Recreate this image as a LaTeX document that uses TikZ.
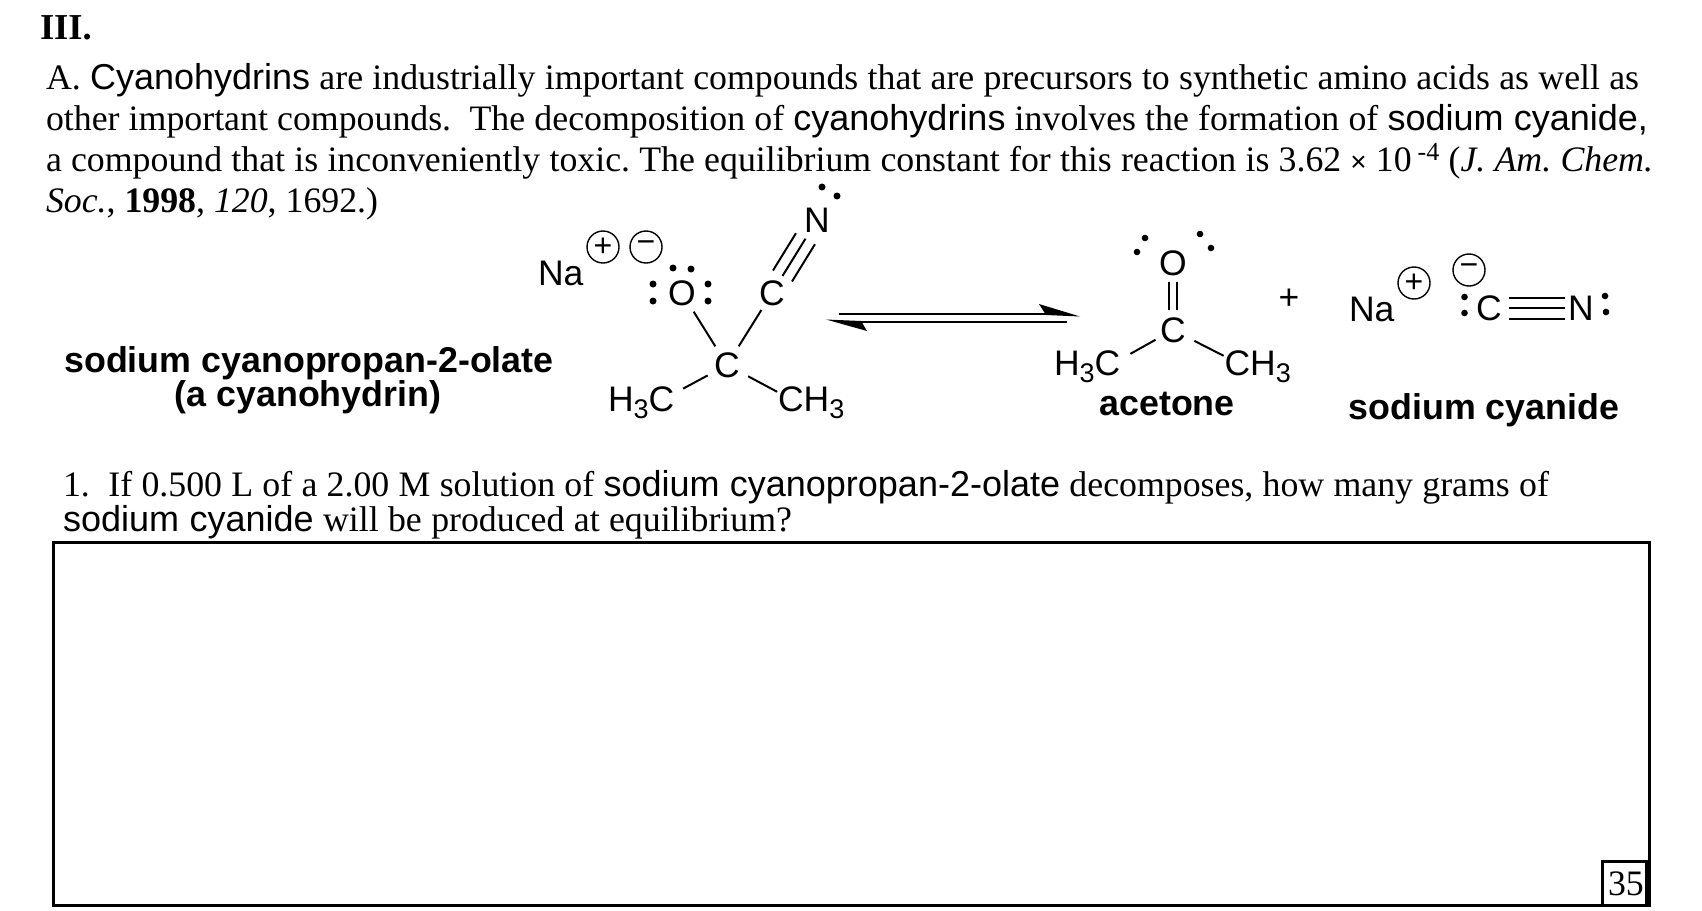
\documentclass[tikz,border=0pt]{standalone}
\usepackage{fontspec}
\setmainfont{Liberation Serif}
\setsansfont{Liberation Sans}
\newcommand{\bodyf}{\fontsize{35.8}{41}\selectfont}
\newcommand{\sfw}[1]{{\sffamily\fontsize{36}{41}\selectfont #1}}
\newcommand{\chemf}{\sffamily\fontsize{35.5}{38}\selectfont}
\newcommand{\subt}[1]{\raisebox{-7pt}{\fontsize{27}{28}\selectfont #1}}
\newcommand{\tline}[2]{\makebox[#1pt][s]{#2}}
\tikzset{
  every node/.style={inner sep=0pt,outer sep=0pt},
  textline/.style={anchor=base west,font=\bodyf},
  chem/.style={anchor=base west,font=\chemf},
  atom/.style={circle,minimum size=44pt,font=\chemf},
  atoms/.style={circle,minimum size=40pt,font=\chemf},
  atomo/.style={circle,minimum size=34pt,font=\chemf},
  plain/.style={font=\chemf},
  boldlabel/.style={anchor=base,font=\sffamily\bfseries\fontsize{35.8}{38}\selectfont},
  bond/.style={line width=2pt,line cap=butt},
  charge/.style={circle,draw,line width=1.4pt,minimum size=32pt,font=\sffamily\fontsize{32}{32}\selectfont},
  eq/.style={line width=1.8pt},
  frame/.style={draw,line width=3pt}
}
\begin{document}
\frenchspacing
\begin{tikzpicture}[x=1pt,y=-1pt]
\useasboundingbox (0,0) rectangle (1702,910);
\fill[white] (0,0) rectangle (1702,910);
% text
\node[textline,font=\bfseries\fontsize{36.5}{41}\selectfont] (t0) at (40,39) {III.};
\node[textline] (t1) at (46,89) {\tline{1593}{A. \sfw{Cyanohydrins} are industrially important compounds that are precursors to synthetic amino acids as well as}};
\node[textline] (t2) at (46,130) {\tline{1602}{other important compounds.\ \ The decomposition of \sfw{cyanohydrins} involves the formation of \sfw{sodium cyanide,}}};
\node[textline] (t3) at (46,171) {\tline{1607}{a compound that is inconveniently toxic. The equilibrium constant for this reaction is 3.62 {\sffamily\fontsize{28}{30}\selectfont ×} 10\,\raisebox{11pt}{\fontsize{26}{26}\selectfont -4} (\textit{J. Am. Chem.}}};
\node[textline] (t4) at (46,212) {\textit{Soc.}, \textbf{1998}, \textit{120}, 1692.)};
\node[textline] (q1) at (63,496.5) {\tline{1486}{1.\ \ If 0.500 L of a 2.00 M solution of \sfw{sodium cyanopropan-2-olate} decomposes, how many grams of}};
\node[textline] (q2) at (63,531) {\tline{729}{\sfw{sodium cyanide} will be produced at equilibrium?}};
% labels
\node[boldlabel] (l1) at (309,372) {sodium cyanopropan-2-olate};
\node[boldlabel] (l2) at (308,406.5) {(a cyanohydrin)};
\node[boldlabel] (l3) at (1167,415.5) {acetone};
\node[boldlabel] (l4) at (1484,419) {sodium cyanide};
% cyanohydrin
\node[chem] (na1) at (538,285) {Na};
\node[charge] (p1) at (603,247) {+};
\node[charge] (m1) at (646,247) {−};
\node[atom] (O1) at (682,293) {O};
\node[atoms] (C1) at (772,293) {C};
\node[atom] (N1) at (817,220) {N};
\node[atom] (C0) at (727,365) {C};
\node[chem] (hc1) at (608,411) {H\subt{3}C};
\node[chem] (ch1) at (778,411) {CH\subt{3}};
\draw[bond] (O1) -- (C0);
\draw[bond] (C1) -- (C0);
\draw[bond] (C1) -- (N1);
\draw[bond,transform canvas={shift={(-9.5pt,5.5pt)}}] (C1) -- (N1);
\draw[bond,transform canvas={shift={(9.5pt,-5.5pt)}}] (C1) -- (N1);
\draw[bond,shorten >=5.5pt] (C0) -- ([yshift=11pt,xshift=4pt]hc1.east);
\draw[bond,shorten <=2pt,shorten >=1pt] (C0) -- ([yshift=10pt]ch1.west);
\fill (822,187) circle (3.5) (837,196) circle (3.5)
  (673,268) circle (3.5) (691,269) circle (3.5)
  (653,284) circle (3.5) (653,301) circle (3.5)
  (708,284) circle (3.5) (708,301) circle (3.5);
% equilibrium arrows
\coordinate (eqa) at (839,314);
\coordinate (eqb) at (1054,314);
\coordinate (eqc) at (860,322);
\coordinate (eqd) at (1066.5,322);
\draw[eq] (eqa) -- (eqb);
\draw[eq] (eqc) -- (eqd);
\fill (1080,316.5) -- (1039,304) -- (1046,315) -- cycle;
\fill (826,319.5) -- (867,331) -- (861,321) -- cycle;
% acetone
\node[atomo] (O2) at (1173,263) {O};
\node[atoms] (C2) at (1173,330) {C};
\node[chem] (hc2) at (1054,375.5) {H\subt{3}C};
\node[chem] (ch2) at (1224.5,375.5) {CH\subt{3}};
\draw[bond,transform canvas={shift={(-4pt,0pt)}}] (O2) -- (C2);
\draw[bond,transform canvas={shift={(4pt,0pt)}}] (O2) -- (C2);
\draw[bond,shorten >=7pt] (C2) -- ([yshift=9.5pt,xshift=4pt]hc2.east);
\draw[bond,shorten <=4pt,shorten >=1pt] (C2) -- ([yshift=10.5pt]ch2.west);
\fill (1145,238) circle (3.3) (1137,252) circle (3.3)
  (1200,234) circle (3.3) (1211,248) circle (3.3);
\node[plain] (plus) at (1289,299) {+};
% NaCN
\node[chem] (na2) at (1349,321.5) {Na};
\node[charge] (p2) at (1414,283) {+};
\node[charge] (m2) at (1469,270) {−};
\node[plain] (C3) at (1489,308) {C};
\node[plain] (N3) at (1581,308) {N};
\draw[bond] ([xshift=7pt]C3.east) -- ([xshift=-3pt]N3.west);
\draw[bond,transform canvas={shift={(0pt,-10.5pt)}}] ([xshift=7pt]C3.east) -- ([xshift=-3pt]N3.west);
\draw[bond,transform canvas={shift={(0pt,10.5pt)}}] ([xshift=7pt]C3.east) -- ([xshift=-3pt]N3.west);
\fill (1464.5,297) circle (3.3) (1464.5,313) circle (3.3)
  (1605,296) circle (3.3) (1606,312) circle (3.3);
% answer box
\draw[frame] (53.5,542) rectangle (1649,905.5);
\draw[frame] (1602,861) rectangle (1649,905.5);
\fill (1645,861) rectangle (1650.5,907);
\node[textline] (pts) at (1608,895) {35};
\end{tikzpicture}
\end{document}
